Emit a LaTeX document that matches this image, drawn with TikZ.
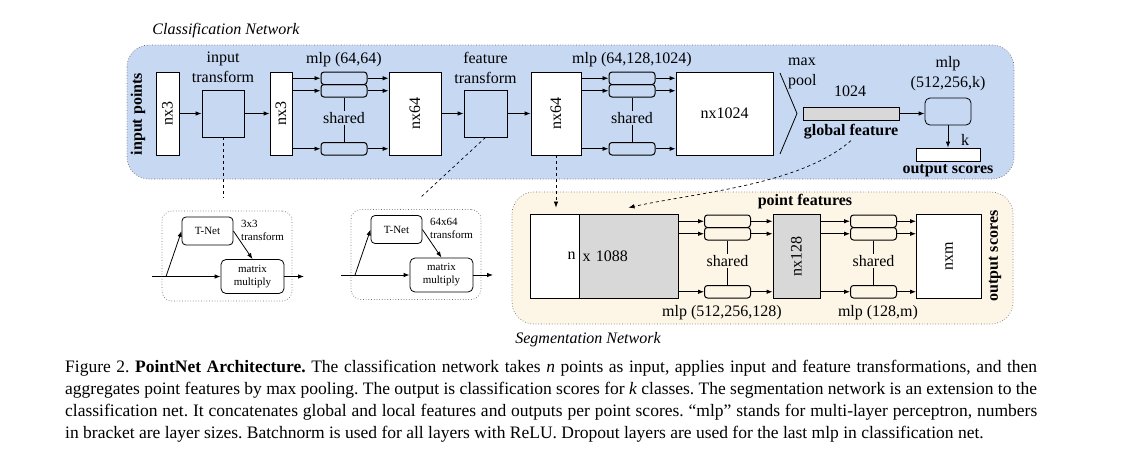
\documentclass[tikz,border=0pt]{standalone}
\usepackage{fontspec}
\setmainfont{Liberation Serif}
\usetikzlibrary{positioning,arrows.meta}

\definecolor{clsblue}{RGB}{199,216,243}
\definecolor{segcream}{RGB}{253,246,231}
\definecolor{featgray}{RGB}{216,216,216}
\definecolor{dotgray}{RGB}{110,110,110}

\tikzset{
txt/.style={font=\fontsize{16}{20}\selectfont, inner sep=1pt},
btxt/.style={txt, font=\fontsize{16}{20}\selectfont\bfseries},
itxt/.style={txt, font=\fontsize{16}{20}\selectfont\itshape},
stxt/.style={font=\fontsize{11}{13}\selectfont, inner sep=1pt},
blk/.style={txt, draw, fill=white, line width=0.8pt, inner sep=0pt},
clr/.style={draw, line width=0.8pt, inner sep=0pt},
mlpbox/.style={draw, line width=1pt, rounded corners=3pt, minimum width=46pt, minimum height=12.5pt, inner sep=0pt},
arr/.style={line width=0.8pt, -{Latex[length=6pt,width=4.5pt]}},
bg/.style={draw=dotgray, line width=0.7pt, dash pattern=on 0.7pt off 2pt, rounded corners=22pt},
pnl/.style={draw=dotgray, line width=0.7pt, dash pattern=on 0.7pt off 2pt, rounded corners=10pt, minimum width=130pt, minimum height=90pt},
rbox/.style={stxt, draw, line width=0.8pt, rounded corners=5pt, fill=white, align=center},
dsh/.style={line width=0.7pt, dashed},
}

% three shared mlp boxes: name, x, top y
\newcommand{\mlpstack}[3]{%
  \node[mlpbox] (#1a) at (#2,#3+6.25) {};
  \node[mlpbox] (#1b) at (#2,#3+18.75) {};
  \node[mlpbox] (#1c) at (#2,#3+76.75) {};
  \node[txt] (#1s) at (#2,#3+46) {shared};
  \draw[line width=1pt] (#1b) -- (#1s) -- (#1c);
}
% arrows in and out of a stack
\newcommand{\mlpwire}[3]{%
  \foreach \r in {a,b,c}{
    \draw[arr] (#2.east |- #1\r) -- (#1\r);
    \draw[arr] (#1\r) -- (#3.west |- #1\r);
  }
}
% T-Net panel: name, dx, dy, size
\newcommand{\tnetpanel}[4]{%
\begin{scope}[shift={(#2,#3)}]
  \node[pnl] (pnl#1) at (227,256) {};
  \node[rbox, minimum width=51pt, minimum height=28pt, rounded corners=4pt] (tnet#1) at (207.5,231) {T-Net};
  \node[rbox, minimum width=63pt, minimum height=34pt] (mm#1) at (252.5,276.5) {matrix\\multiply};
  \node[stxt, align=left, anchor=west] (tf#1) at (240,230) {#4\\transform};
  \coordinate (in#1) at (152,276.5);
  \coordinate (br#1) at (166,276.5);
  \coordinate (out#1) at (304,276.5);
  \draw[arr] (in#1) -- (mm#1);
  \draw[arr] (br#1) -- (tnet#1.west);
  \draw[arr] (tnet#1.east) -- (mm#1.north);
  \draw[arr] (mm#1) -- (out#1);
\end{scope}}

\begin{document}
\begin{tikzpicture}[x=1pt,y=-1pt]
\fill[white] (0,0) rectangle (1128,453);
\useasboundingbox (0,0) rectangle (1128,453);

% classification network
\draw[bg, fill=clsblue] (127,45) rectangle (1014,179);
\node[itxt] (clsname) at (226,31) {Classification Network};
\node[btxt, rotate=90] (inpts) at (138,114) {input points};
\node[blk, minimum width=23pt, minimum height=83pt] (nx3a) at (167.5,113.5) {\rotatebox{90}{nx3}};
\node[clr, minimum width=42pt, minimum height=47pt] (itrans) at (223,113.5) {};
\node[txt, align=center] (itranslbl) at (223,67.5) {input\\transform};
\node[blk, minimum width=22pt, minimum height=83pt] (nx3b) at (281,113.5) {\rotatebox{90}{nx3}};
\mlpstack{mlpA}{344}{72}
\node[txt] (mlpAlbl) at (344,60) {mlp (64,64)};
\node[blk, minimum width=52pt, minimum height=83pt] (nx64a) at (415,113.5) {\rotatebox{90}{nx64}};
\node[clr, minimum width=43pt, minimum height=47pt] (ftrans) at (485.5,113.5) {};
\node[txt, align=center] (ftranslbl) at (485.5,67.5) {feature\\transform};
\node[blk, minimum width=50pt, minimum height=83pt] (nx64b) at (556,113.5) {\rotatebox{90}{nx64}};
\mlpstack{mlpB}{632}{72}
\node[txt] (mlpBlbl) at (632,60) {mlp (64,128,1024)};
\node[blk, minimum width=97pt, minimum height=83pt] (nx1024) at (724.5,113.5) {nx1024};
\coordinate (mpa) at (780,73);
\coordinate (mpb) at (797,113.5);
\coordinate (mpc) at (780,154);
\draw[line width=0.8pt] (mpa) -- (mpb) -- (mpc);
\node[txt, align=left, anchor=west] (maxpool) at (787,73.5) {max\\pool};
\node[txt] (gdim) at (850,91) {1024};
\node[blk, fill=featgray, minimum width=96pt, minimum height=13pt] (gfeat) at (851,113.5) {};
\node[btxt] (gfeatlbl) at (851,132) {global feature};
\node[clr, rounded corners=5pt, minimum width=46pt, minimum height=27pt] (mlpC) at (948,111.5) {};
\node[txt, align=center] (mlpClbl) at (948,73.5) {mlp\\(512,256,k)};
\node[blk, minimum width=64pt, minimum height=13pt] (outbar) at (948,154.5) {};
\node[txt] (klbl) at (965,140) {k};
\node[btxt] (outlbl) at (948,171) {output scores};

\draw[arr] (nx3a) -- (itrans);
\draw[arr] (itrans) -- (nx3b);
\mlpwire{mlpA}{nx3b}{nx64a}
\draw[arr] (nx64a) -- (ftrans);
\draw[arr] (ftrans) -- (nx64b);
\mlpwire{mlpB}{nx64b}{nx1024}
\draw[arr] (gfeat) -- (mlpC.west |- gfeat);
\draw[arr] (mlpC) -- (outbar);

% transform panels
\tnetpanel{A}{0}{0}{3x3}
\tnetpanel{B}{189}{-1.5}{64x64}
\coordinate (itend) at (223,198);
\coordinate (ftend) at (420,198);
\draw[dsh] (itrans.south) -- (itend);
\draw[dsh] (ftrans.south) -- (ftend);

% segmentation network
\draw[bg, fill=segcream] (512,192) rectangle (1013,324);
\node[itxt] (segname) at (588,340) {Segmentation Network};
\node[btxt] (ptfeat) at (805,202) {point features};
\node[blk, minimum width=49pt, minimum height=84pt, text width=42pt, align=right] (nbox) at (554.5,256) {n};
\node[blk, fill=featgray, minimum width=99pt, minimum height=84pt, text width=92pt, align=left] (x1088) at (628.5,256) {x 1088};
\mlpstack{mlpD}{727.5}{215}
\node[txt] (mlpDlbl) at (722,313) {mlp (512,256,128)};
\node[blk, fill=featgray, minimum width=47pt, minimum height=84pt] (nx128) at (796.5,256) {\rotatebox{90}{nx128}};
\mlpstack{mlpE}{873.5}{215}
\node[txt] (mlpElbl) at (878,313) {mlp (128,m)};
\node[blk, minimum width=65pt, minimum height=84pt] (nxm) at (949,256) {\rotatebox{90}{nxm}};
\node[btxt, rotate=90] (seglbl) at (995,256) {output scores};
\mlpwire{mlpD}{x1088}{nx128}
\mlpwire{mlpE}{nx128}{nxm}

\draw[dsh, -{Latex[length=6pt,width=4.5pt]}, shorten >=6pt] (nx64b) -- (nx64b |- nbox.north);
\draw[dsh, -{Latex[length=6pt,width=4.5pt]}] (gfeatlbl.south) .. controls (800,185) and (700,192) .. ([yshift=6pt]x1088.north);

% caption
\node[anchor=north west, text width=972pt, align=justify, inner sep=0pt, font=\fontsize{17.5}{22}\selectfont\frenchspacing] (caption) at (65,360) {Figure 2. \textbf{PointNet Architecture.} The classification network takes \textit{n} points as input, applies input and feature transformations, and then\linebreak aggregates point features by max pooling. The output is classification scores for \textit{k} classes. The segmentation network is an extension to the\linebreak classification net. It concatenates global and local features and outputs per point scores. ``mlp'' stands for multi-layer perceptron, numbers\linebreak in bracket are layer sizes. Batchnorm is used for all layers with ReLU. Dropout layers are used for the last mlp in classification net.};
\end{tikzpicture}
\end{document}
